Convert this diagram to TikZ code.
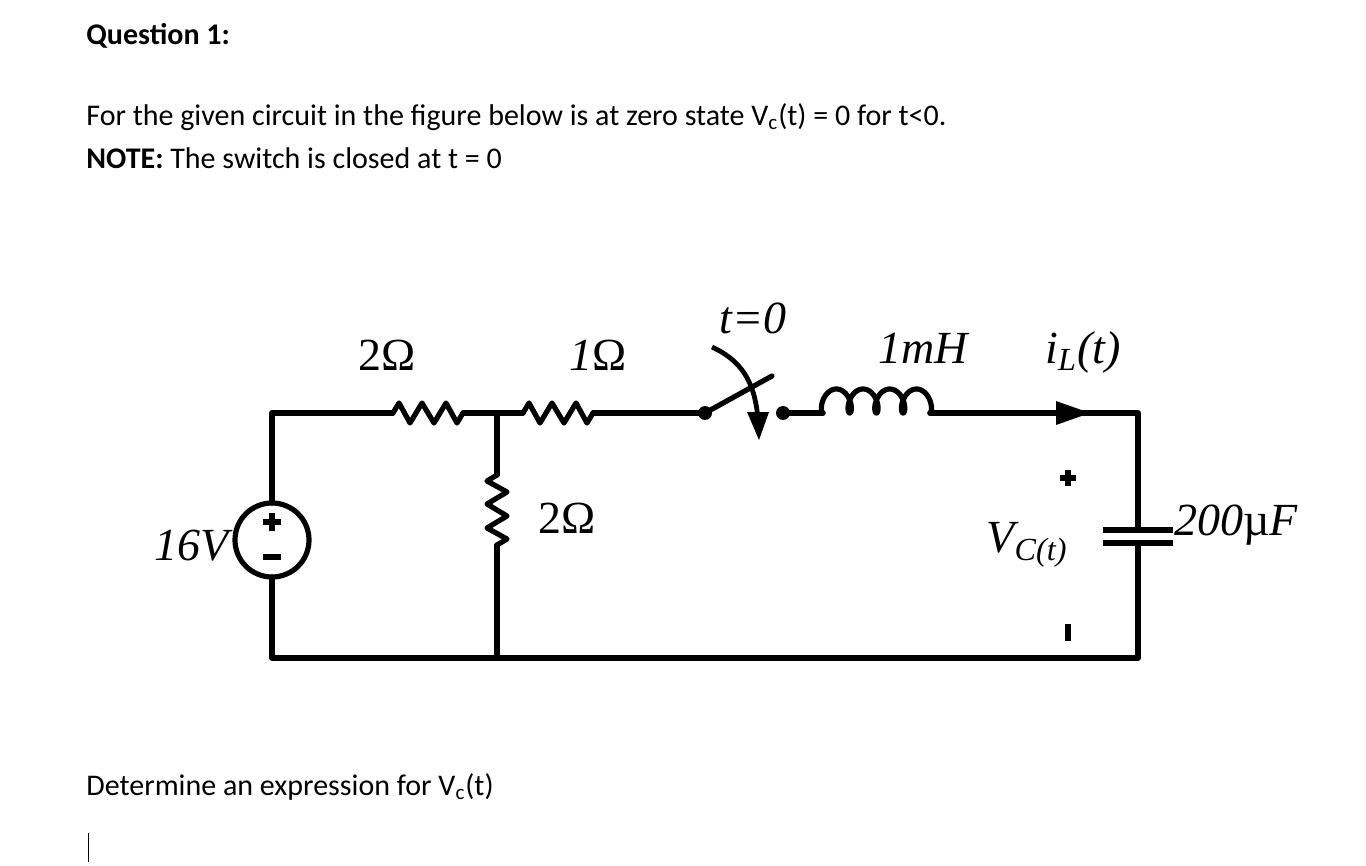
\documentclass[tikz,border=0pt]{standalone}
\usepackage{fontspec}
\setmainfont{Carlito}
\newfontfamily\tms{Liberation Serif}
\begin{document}
\begin{tikzpicture}[x=0.5pt,y=-0.5pt,
  w/.style={line width=2.6pt,line cap=round,line join=round},
  lab/.style={font=\tms\fontsize{23}{25}\selectfont\itshape},
  txt/.style={font=\fontsize{15}{17}\selectfont,anchor=west,inner sep=0}]
\useasboundingbox (0,0) rectangle (1366,866);
\node[txt,font=\bfseries\fontsize{15}{17}\selectfont] (q) at (86,36) {Question 1:};
\node[txt] (l1) at (86,117) {For the given circuit in the figure below is at zero state V\textsubscript{c}(t) = 0 for t<0.};
\node[txt] (l2) at (86,158) {\textbf{NOTE:} The switch is closed at t = 0};
\node[txt] (l3) at (86,787) {Determine an expression for V\textsubscript{c}(t)};
\draw[line width=0.5pt] (88,833) -- (88,862);
% wires
\draw[w] (272,503) -- (272,413) -- (393,413);
\draw[w] (272,577) -- (272,658) -- (1138,658) -- (1138,543);
\draw[w] (1138,530) -- (1138,413) -- (930,413);
\draw[w] (463,413) -- (523,413);
\draw[w] (593,413) -- (705,413);
\draw[w] (497,413) -- (497,475);
\draw[w] (497,545) -- (497,658);
\draw[w] (783,413) -- (823,413);
% resistors
\draw[w] (393,413) -- (399,403) -- (410,423) -- (422,403) -- (434,423) -- (446,403) -- (457,423) -- (463,413);
\draw[w] (523,413) -- (529,403) -- (540,423) -- (552,403) -- (564,423) -- (576,403) -- (587,423) -- (593,413);
\draw[w] (497,475) -- (487,481) -- (507,492) -- (487,504) -- (507,516) -- (487,528) -- (507,539) -- (497,545);
% source
\coordinate (src) at (272,540);
\draw[line width=2.6pt] (src) circle (37);
\draw[line width=3pt] (263,522) -- (281,522) (272,513) -- (272,531);
\draw[line width=3.2pt] (263,557) -- (281,557);
% switch
\fill (705,413) circle (7) (783,413) circle (7);
\draw[w] (705,413) -- (772,376);
\draw[line width=2.4pt] (712,347) .. controls (740,360) and (755,380) .. (758,420);
\fill (747,412) -- (769,412) -- (759,440) -- cycle;
% inductor
\draw[w] plot[domain=0:25.13,samples=200,smooth] ({823+4.25*\x-7*sin(\x r)},{413-12*(1-cos(\x r))});
% current arrow
\fill (1056,401) -- (1090,413) -- (1056,425) -- cycle;
% capacitor
\draw[line width=2.6pt] (1103,530) -- (1173,530) (1103,543) -- (1173,543);
\draw[line width=2.6pt] (1060,478) -- (1076,478) (1068,470) -- (1068,486);
\draw[line width=3pt] (1068,624) -- (1068,641);
% labels
\node[lab,font=\tms\fontsize{23}{25}\selectfont] (a) at (387,355) {2Ω};
\node[lab] (b) at (598,355) {1\textup{Ω}};
\node[lab] (c) at (753,318) {t=0};
\node[lab] (d) at (923,348) {1mH};
\node[lab] (e) at (1083,352) {i\textsubscript{L}(t)};
\node[lab,font=\tms\fontsize{23}{25}\selectfont] (f) at (567,518) {2Ω};
\node[lab,anchor=east] (g) at (236,546) {16V};
\node[lab] (h) at (1027,545) {V\textsubscript{C(t)}};
\node[lab,anchor=west,inner sep=0] (k) at (1174,525) {200\textup{µ}F};
\end{tikzpicture}
\end{document}
